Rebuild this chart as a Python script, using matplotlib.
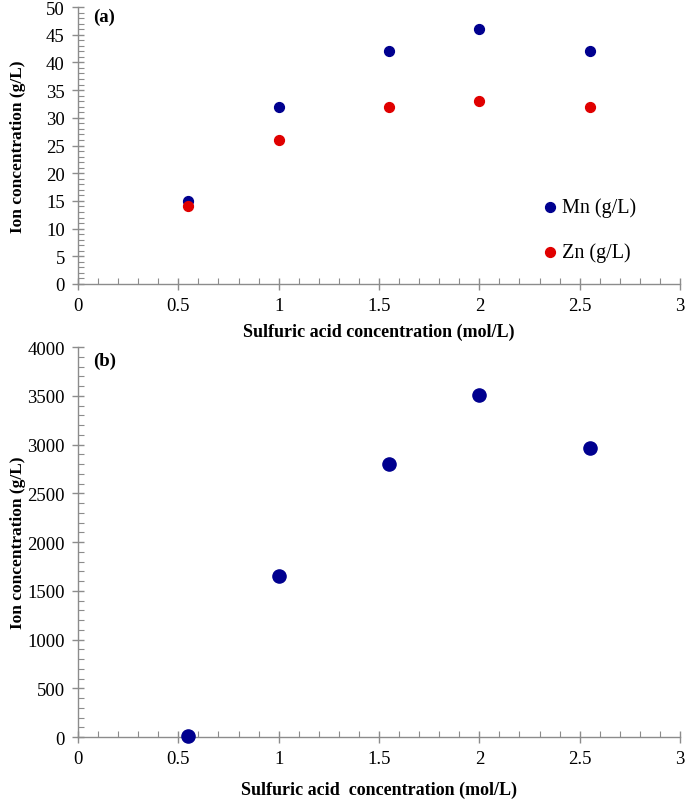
import matplotlib
matplotlib.use("Agg")
import matplotlib.pyplot as plt
from matplotlib.ticker import MultipleLocator

# panel (a): leaching at different acid strengths
acid_a = [0.55, 1.0, 1.55, 2.0, 2.55]
mn_a = [15, 32, 42, 46, 42]
zn_a = [14, 26, 32, 33, 32]

# panel (b)
acid_b = [0.55, 1.0, 1.55, 2.0, 2.55]
ion_b = [15, 1650, 2800, 3510, 2965]

MN_COLOR = "#00008f"
ZN_COLOR = "#e00000"
AXIS_GRAY = "#8c8c8c"

plt.rcParams["font.family"] = ["Liberation Serif", "DejaVu Serif"]
plt.rcParams["font.size"] = 12


def style_axes(ax, ymax, ymajor, yminor):
    ax.set_xlim(0, 3)
    ax.set_ylim(0, ymax)
    ax.xaxis.set_major_locator(MultipleLocator(0.5))
    ax.xaxis.set_minor_locator(MultipleLocator(0.1))
    ax.yaxis.set_major_locator(MultipleLocator(ymajor))
    ax.yaxis.set_minor_locator(MultipleLocator(yminor))
    ax.xaxis.set_major_formatter(plt.FuncFormatter(lambda v, p: f"{v:g}"))
    for s in ("top", "right"):
        ax.spines[s].set_visible(False)
    for s in ("left", "bottom"):
        ax.spines[s].set_color(AXIS_GRAY)
        ax.spines[s].set_linewidth(1.0)
    ax.tick_params(which="major", direction="inout", length=9, width=1.0,
                   color=AXIS_GRAY, labelsize=13.5, pad=5)
    ax.tick_params(which="minor", direction="in", length=4, width=0.8,
                   color=AXIS_GRAY)


fig = plt.figure(figsize=(6.85, 8.03), dpi=100)

ax1 = fig.add_axes([0.1139, 0.6451, 0.8788, 0.3449])
ax1.scatter(acid_a, mn_a, s=50, color=MN_COLOR, label="Mn (g/L)", zorder=3, clip_on=False)
ax1.scatter(acid_a, zn_a, s=50, color=ZN_COLOR, label="Zn (g/L)", zorder=3, clip_on=False)
style_axes(ax1, 50, 5, 1)
ax1.set_xlabel("Sulfuric acid concentration (mol/L)", fontweight="bold", fontsize=13, labelpad=6)
ax1.set_ylabel("Ion concentration (g/L)", fontweight="bold", fontsize=12.5)
ax1.yaxis.set_label_coords(-0.087, 0.5)
ax1.text(0.025, 0.965, "(a)", transform=ax1.transAxes, fontweight="bold", fontsize=13.5, va="center")
ax1.legend(loc="center left", bbox_to_anchor=(0.738, 0.195), frameon=False,
           handletextpad=0.05, handlelength=1.0, labelspacing=1.25, fontsize=14.5)

ax2 = fig.add_axes([0.1139, 0.0809, 0.8788, 0.4857])
ax2.scatter(acid_b, ion_b, s=90, color=MN_COLOR, zorder=3, clip_on=False)
style_axes(ax2, 4000, 500, 100)
ax2.set_xlabel("Sulfuric acid  concentration (mol/L)", fontweight="bold", fontsize=13, labelpad=10)
ax2.set_ylabel("Ion concentration (g/L)", fontweight="bold", fontsize=12.5)
ax2.yaxis.set_label_coords(-0.087, 0.5)
ax2.text(0.025, 0.965, "(b)", transform=ax2.transAxes, fontweight="bold", fontsize=13.5, va="center")

fig.savefig("out.png", dpi=100)
plt.close(fig)
